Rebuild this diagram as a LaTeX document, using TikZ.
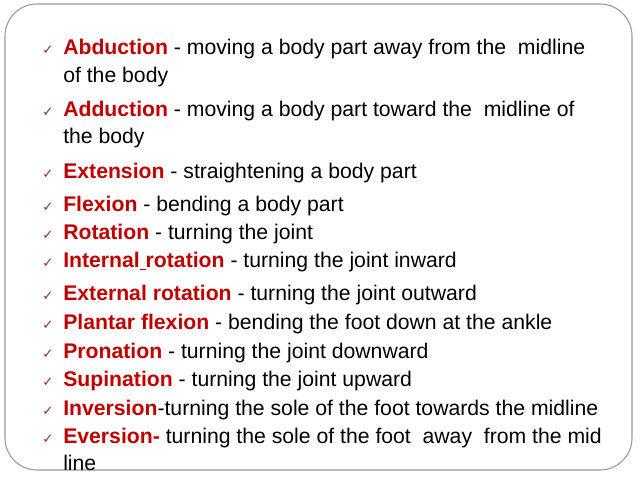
\documentclass[tikz,border=0pt]{standalone}
\usepackage{fontspec}
\setmainfont{Liberation Sans}
\newfontfamily\symfont{DejaVu Sans}
\definecolor{term}{HTML}{C00000}
\definecolor{chk}{HTML}{A0301A}
\begin{document}
\begin{tikzpicture}[x=0.75pt,y=-0.75pt,
  txt/.style={anchor=base west,inner sep=0pt,font=\fontsize{15.9pt}{18pt}\selectfont},
  chkm/.style={anchor=base west,inner sep=0pt,text=chk,font=\symfont\fontsize{10pt}{11pt}\selectfont}]
\useasboundingbox (0,0) rectangle (638,478);
\fill[white] (0,0) rectangle (638,478);
\draw[gray!80,line width=0.8pt,rounded corners=24pt] (5,4) rectangle (632,470);
\newcommand{\tm}[1]{\textcolor{term}{\textbf{#1}}}
\foreach \y/\n in {55/a,116/b,178/c,211/d,239/e,267/f,300/g,329/h,358/i,386/j,415/k,443/l}
  \node[chkm] (c\n) at (42,\y) {✓};
\node[txt] (t1) at (63,55) {\tm{Abduction} - moving a body part away from the\ \ midline};
\node[txt] (t1b) at (63,82) {of the body};
\node[txt] (t2) at (63,116) {\tm{Adduction} - moving a body part toward the\ \ midline of};
\node[txt] (t2b) at (63,143) {the body};
\node[txt] (t3) at (63,178) {\tm{Extension} - straightening a body part};
\node[txt] (t4) at (63,211) {\tm{Flexion} - bending a body part};
\node[txt] (t5) at (63,239) {\tm{Rotation} - turning the joint};
\node[txt] (t6) at (63,267) {\tm{Internal\underline{\ }rotation} - turning the joint inward};
\node[txt] (t7) at (63,300) {\tm{External rotation} - turning the joint outward};
\node[txt] (t8) at (63,329) {\tm{Plantar flexion} - bending the foot down at the ankle};
\node[txt] (t9) at (63,358) {\tm{Pronation} - turning the joint downward};
\node[txt] (t10) at (63,386) {\tm{Supination} - turning the joint upward};
\node[txt] (t11) at (63,415) {\tm{Inversion}-turning the sole of the foot towards the midline};
\node[txt] (t12) at (63,443) {\tm{Eversion-} turning the sole of the foot\ \ away\ \ from the mid};
\node[txt] (t12b) at (63,470) {line};
\end{tikzpicture}
\end{document}
